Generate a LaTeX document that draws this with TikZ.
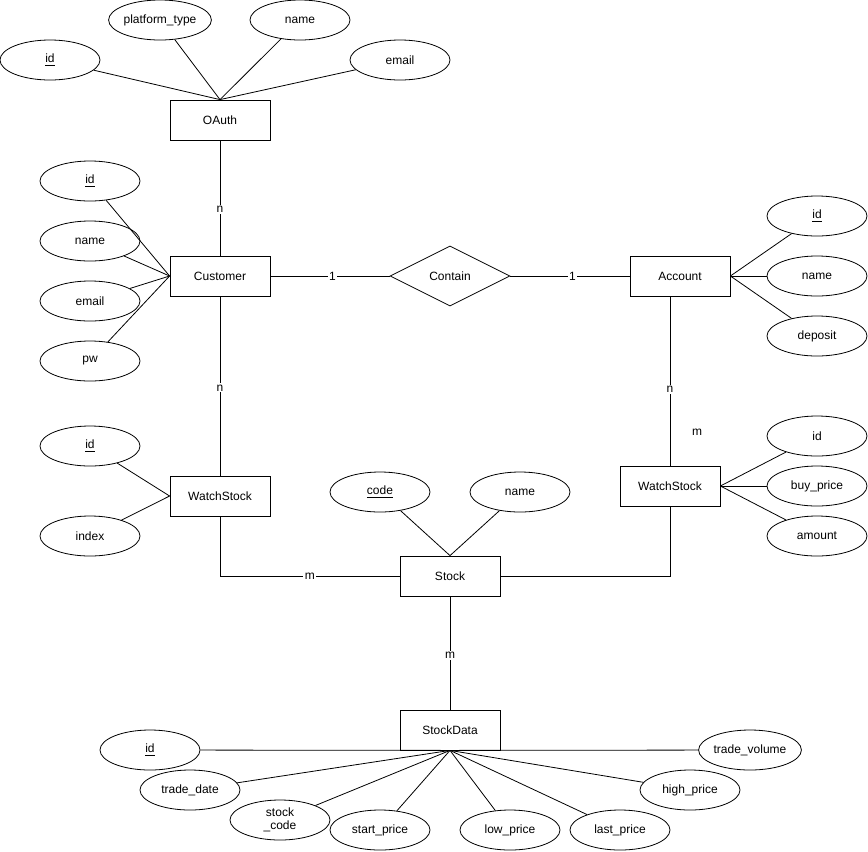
\documentclass[tikz,border=0pt]{standalone}
\usepackage{fontspec}
\setmainfont{Liberation Sans}
\usetikzlibrary{shapes.geometric}
\begin{document}
\begin{tikzpicture}[x=0.75pt,y=-0.75pt,font=\fontsize{9}{10}\selectfont,
  ent/.style={draw,rectangle,minimum width=75pt,minimum height=30pt,inner sep=0},
  attr/.style={draw,ellipse,minimum width=75pt,minimum height=30pt,inner sep=0,align=center},
  rel/.style={draw,diamond,aspect=2,minimum width=90pt,minimum height=45pt,inner sep=0},
  lbl/.style={fill=white,inner sep=1pt},
  every path/.style={line width=0.6pt}]
\useasboundingbox (0,0) rectangle (868,851);
\node[ent] (oauth) at (220,120) {OAuth};
\node[attr] (oid) at (50,60) {\underline{id}};
\node[attr] (opt) at (160,20) {platform\_type};
\node[attr] (oname) at (300,20) {name};
\node[attr] (oemail) at (400,60) {email};
\foreach \a in {oid,opt,oname,oemail} \draw (oauth.north) -- (\a);
\node[ent] (cust) at (220,276) {Customer};
\node[attr] (cid) at (90,181) {\underline{id}};
\node[attr] (cname) at (90,241) {name};
\node[attr] (cemail) at (90,301) {email};
\node[attr] (cpw) at (90,361) {pw};
\foreach \a in {cid,cname,cemail,cpw} \draw (cust.west) -- (\a);
\node[rel] (contain) at (450,276) {Contain};
\node[ent] (acc) at (680,276) {Account};
\node[attr] (aid) at (817,216) {\underline{id}};
\node[attr] (aname) at (817,276) {name};
\node[attr] (adep) at (817,336) {deposit};
\foreach \a in {aid,aname,adep} \draw (acc.east) -- (\a);
\node[ent] (wsl) at (220,496) {WatchStock};
\node[attr] (wlid) at (90,446) {\underline{id}};
\node[attr] (wlidx) at (90,536) {index};
\foreach \a in {wlid,wlidx} \draw (wsl.west) -- (\a);
\node[ent] (wsr) at (670,486) {WatchStock};
\node[attr] (wrid) at (817,436) {id};
\node[attr] (wrbp) at (817,486) {buy\_price};
\node[attr] (wram) at (817,536) {amount};
\foreach \a in {wrid,wrbp,wram} \draw (wsr.east) -- (\a);
\node[ent] (stock) at (450,576) {Stock};
\node[attr] (scode) at (380,492) {\underline{code}};
\node[attr] (sname) at (520,492) {name};
\foreach \a in {scode,sname} \draw (stock.north) -- (\a);
\node[ent] (sd) at (450,730) {StockData};
\node[attr] (did) at (150,750) {\underline{id}};
\node[attr] (dtd) at (190,790) {trade\_date};
\node[attr] (dsc) at (280,820) {stock\\\_code};
\node[attr] (dsp) at (380,830) {start\_price};
\node[attr] (dlp) at (510,830) {low\_price};
\node[attr] (dla) at (620,830) {last\_price};
\node[attr] (dhp) at (690,790) {high\_price};
\node[attr] (dtv) at (750,750) {trade\_volume};
\foreach \a in {did,dtd,dsc,dsp,dlp,dla,dhp,dtv} \draw (sd.south) -- (\a);
\draw (oauth) -- node[lbl,pos=0.6] {n} (cust);
\draw (cust) -- node[lbl,pos=0.52] {1} (contain);
\draw (contain) -- node[lbl,pos=0.52] {1} (acc);
\draw (cust) -- node[lbl,pos=0.51] {n} (wsl);
\draw (acc.south -| wsr.north) -- node[lbl,pos=0.55] {n} (wsr.north);
\node at (697,432) {m};
\draw (wsl.south) |- node[lbl,pos=0.75] {m} (stock.west);
\draw (wsr.south) |- (stock.east);
\draw (stock) -- node[lbl,pos=0.52] {m} (sd);
\end{tikzpicture}
\end{document}
